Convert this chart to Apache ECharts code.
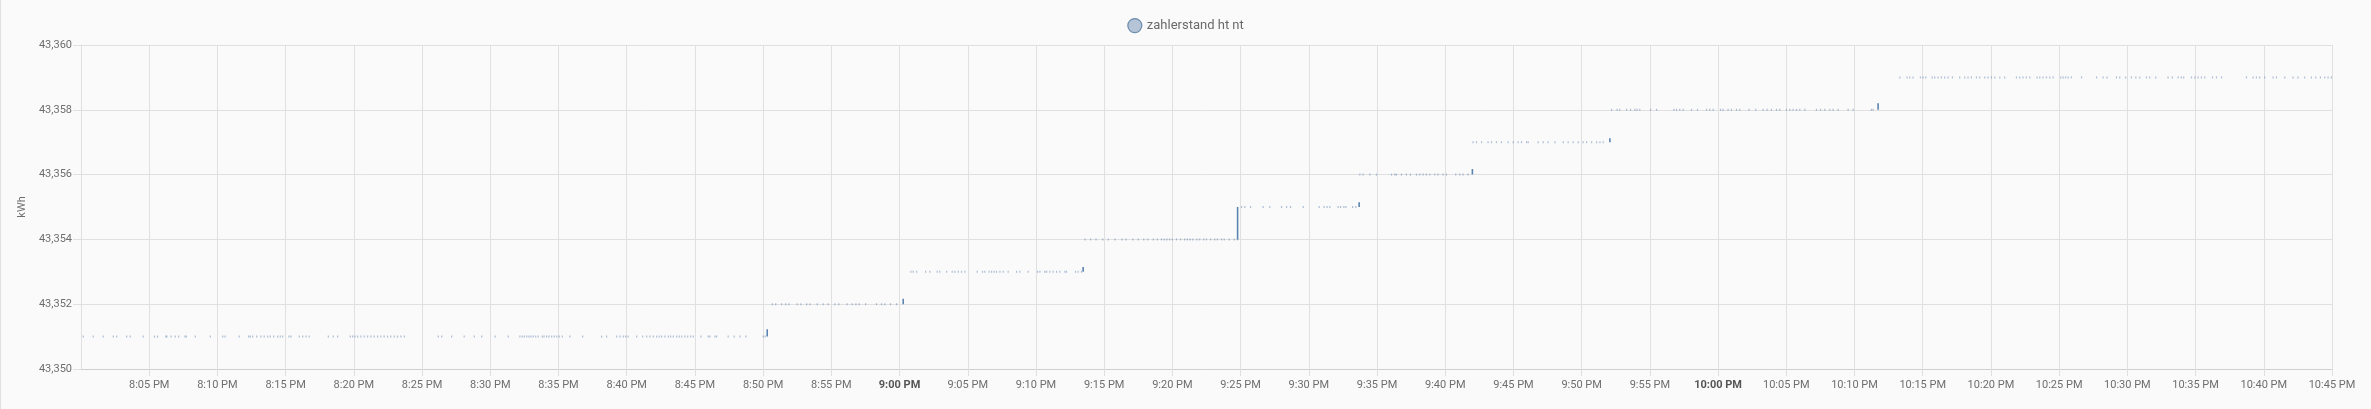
<!DOCTYPE html>
<html>
<head>
<meta charset="utf-8">
<script src="https://cdn.jsdelivr.net/npm/echarts@6/dist/echarts.min.js"></script>
<style>
html,body{margin:0;padding:0;background:#fafafa;}
#c{width:2371px;height:409px;}
</style>
</head>
<body>
<div id="c"></div>
<script>
// Sample times are minutes after 8:00 PM
const seriesName = 'zahlerstand ht nt';
const unit = 'kWh';
const startHour = 20;
const xMinMinutes = 0;
const xMaxMinutes = 165;
const yMin = 43350, yMax = 43360;

const level43351 = [0.17,0.9,1.63,2.37,2.62,3.35,3.61,4.56,5.39,5.61,6.22,6.29,6.6,6.91,7.16,7.62,7.72,8.38,9.48,10.39,10.56,11.6,12.29,12.41,12.58,12.88,13.19,13.43,13.68,13.87,14.12,14.41,14.61,14.78,15.24,15.39,16.0,16.25,16.49,16.73,18.13,18.49,18.81,19.74,19.91,20.08,20.28,20.52,20.76,21.01,21.25,21.49,21.74,21.98,22.22,22.47,22.71,22.96,23.2,23.45,23.7,26.19,26.44,27.17,28.09,28.83,29.37,30.36,31.32,32.17,32.34,32.49,32.67,32.83,32.98,33.15,33.33,33.52,33.81,33.94,34.13,34.3,34.5,34.69,34.87,35.06,35.28,35.84,36.77,38.16,38.53,39.26,39.5,39.75,39.92,40.11,40.73,41.17,41.46,41.7,41.95,42.19,42.39,42.56,42.8,43.05,43.22,43.41,43.66,43.85,44.03,44.27,44.47,44.69,44.88,45.44,45.98,46.1,46.47,46.59,47.44,47.88,48.3,48.74,50.01,50.15];
const level43352 = [50.67,50.92,51.35,51.65,51.89,52.5,52.77,53.19,53.43,53.97,54.4,54.77,55.26,55.55,56.16,56.53,56.8,57.04,57.51,58.31,58.68,58.92,59.34,59.78];
const level43353 = [60.83,61.0,61.25,61.91,62.22,62.76,62.95,63.45,63.86,64.05,64.3,64.54,64.79,65.69,66.08,66.25,66.57,66.75,66.94,67.11,67.36,67.6,67.96,68.58,68.82,69.43,70.12,70.29,70.65,70.78,71.02,71.26,71.51,71.75,72.12,72.24,72.9,73.09,73.34];
const level43354 = [73.6,74.0,74.4,74.9,75.3,75.8,76.3,76.6,77.1,77.5,77.9,78.2,78.6,78.9,79.2,79.4,79.6,79.8,80.0,80.3,80.6,80.9,81.1,81.3,81.5,81.8,82.0,82.3,82.5,82.8,83.1,83.3,83.6,83.8,84.16,84.53,84.77];
const level43355 = [85.07,85.31,85.73,86.65,87.14,88.0,88.37,88.66,89.59,90.76,91.12,91.34,91.54,92.15,92.33,92.57,92.72,93.21,93.45];
const level43356 = [93.74,93.98,94.47,94.96,96.06,96.3,96.42,96.79,97.15,97.45,97.89,98.13,98.38,98.62,98.87,99.23,99.47,99.84,100.09,100.77,101.06,101.3,101.67];
const level43357 = [102.04,102.29,102.66,103.14,103.39,103.75,104.12,104.61,104.98,105.34,105.59,105.96,106.08,106.81,107.18,107.54,108.04,108.65,109.01,109.38,109.75,110.11,110.36,110.73,111.1,111.34,111.58];
const level43358 = [112.19,112.6,112.79,113.29,113.58,113.9,114.06,114.26,115.05,115.49,116.76,116.95,117.19,117.44,118.05,118.49,119.15,119.39,119.64,120.18,120.37,120.73,120.98,121.35,121.59,122.27,122.76,123.3,123.59,123.91,124.28,124.52,125.01,125.26,125.5,125.75,125.99,126.36,127.21,127.51,127.82,128.19,128.43,128.8,129.53,129.9,131.24,131.36];
const level43359 = [133.32,133.85,134.05,134.29,134.83,135.03,135.22,135.69,135.88,136.12,136.37,136.61,136.86,137.18,137.71,138.08,138.32,138.57,138.94,139.18,139.55,139.79,140.04,140.28,140.65,141.01,141.87,142.11,142.35,142.6,142.85,143.38,143.58,143.82,144.07,144.31,144.56,145.12,145.29,145.47,145.66,145.9,146.64,147.74,148.22,148.51,149.2,149.44,149.88,150.3,150.62,150.91,151.4,151.64,152.08,152.98,153.3,153.72,153.96,154.13,154.7,154.94,155.18,155.43,155.67,156.24,156.53,156.9,158.73,159.21,159.46,159.7,160.07,160.68,160.93,161.54,162.14,162.51,163.0,163.49,163.81,164.15,164.47,164.71,164.95];

// Step transitions: time, value before, value reached
const stepTimes = [50.3, 60.27, 73.46, 84.78, 93.69, 101.99, 112.07, 131.73];
const stepFrom  = [43351, 43352, 43353, 43354, 43355, 43356, 43357, 43358];
const stepTo    = [43351.23, 43352.17, 43353.15, 43355, 43355.15, 43356.17, 43357.12, 43358.2];

const levels = [
  [43351, level43351],[43352, level43352],[43353, level43353],[43354, level43354],
  [43355, level43355],[43356, level43356],[43357, level43357],[43358, level43358],[43359, level43359]
];
const pointData = [];
levels.forEach(([v, ts]) => ts.forEach(t => pointData.push([t, v])));
const stepData = [];
stepTimes.forEach((t, i) => {
  stepData.push([t, stepFrom[i]]);
  stepData.push([t, stepTo[i]]);
  stepData.push([t, '-']);
});

function fmtTime(m) {
  const total = startHour * 60 + Math.round(m);
  let h = Math.floor(total / 60) % 12; if (h === 0) h = 12;
  const mm = total % 60;
  const s = h + ':' + String(mm).padStart(2, '0') + ' PM';
  return mm === 0 ? '{b|' + s + '}' : s;
}

const chart = echarts.init(document.getElementById('c'), null, {renderer: 'canvas'});
chart.setOption({
  backgroundColor: '#fafafa',
  animation: false,
  textStyle: {fontFamily: 'Roboto, sans-serif'},
  graphic: [{type: 'line', shape: {x1: 0.5, y1: 0, x2: 0.5, y2: 409}, style: {stroke: '#e0e0e0', lineWidth: 1}}],
  legend: {
    top: 13, left: 'center',
    itemWidth: 14, itemHeight: 14, itemGap: 7,
    textStyle: {color: '#6a6a6a', fontSize: 13, fontFamily: 'Roboto, sans-serif'},
    data: [{name: seriesName, icon: 'circle', itemStyle: {color: '#a4b7cd', borderColor: '#50779f', borderWidth: 1.2}}]
  },
  grid: {left: 81, right: 39, top: 45, bottom: 40},
  xAxis: {
    type: 'value', min: xMinMinutes, max: xMaxMinutes, interval: 5,
    axisLine: {show: true, lineStyle: {color: '#cfcfcf', width: 1}},
    axisTick: {show: true, length: 7, lineStyle: {color: '#e0e0e0'}},
    splitLine: {show: true, lineStyle: {color: '#e0e0e0', width: 1}},
    axisLabel: {
      showMinLabel: false, showMaxLabel: true,
      color: '#6e6e6e', fontSize: 11, margin: 11,
      formatter: fmtTime,
      rich: {b: {fontWeight: 'bold', color: '#555', fontSize: 11}}
    }
  },
  yAxis: {
    type: 'value', min: yMin, max: yMax, interval: 2,
    name: unit, nameLocation: 'middle', nameGap: 51, nameRotate: 90,
    nameTextStyle: {color: '#6e6e6e', fontSize: 11},
    axisLine: {show: true, lineStyle: {color: '#e0e0e0'}},
    axisTick: {show: true, length: 8, lineStyle: {color: '#e0e0e0'}},
    splitLine: {show: true, lineStyle: {color: '#e0e0e0', width: 1}},
    axisLabel: {color: '#6e6e6e', fontSize: 11, margin: 9,
      formatter: v => v.toLocaleString('en-US')}
  },
  series: [
    {
      name: seriesName, type: 'scatter', data: pointData,
      symbol: 'rect', symbolSize: [1.2, 2], silent: true,
      itemStyle: {color: 'rgba(74,114,166,0.55)'}
    },
    {
      name: 'steps', type: 'line', data: stepData, showSymbol: false, silent: true,
      connectNulls: false,
      lineStyle: {color: '#5b84b0', width: 1.6}
    }
  ]
});
</script>
</body>
</html>
